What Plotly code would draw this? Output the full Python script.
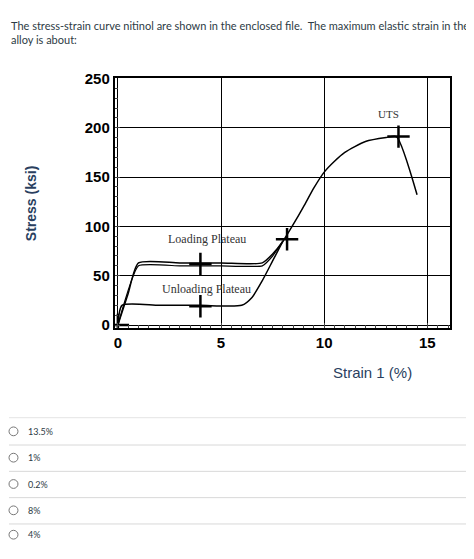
import plotly.graph_objects as go

# loading curve (upper line) up to UTS and fracture
load_x = [0, 0.5, 1, 3, 5, 7, 7.5, 8, 8.5, 9, 9.5, 10, 10.5, 11, 12, 13, 13.5, 14.5]
load_y = [0, 32, 63, 63, 63, 63, 72, 85, 102, 120, 139, 155, 166, 175, 186, 190, 191, 132]
# second loading trace (slightly lower plateau)
load2_x = [0, 1, 3, 5, 7, 7.5, 8]
load2_y = [0, 60, 60, 60, 60, 70, 85]
# unloading curve
unload_x = [8, 7.5, 7, 6.5, 6, 4, 2, 0.2, 0]
unload_y = [85, 65, 45, 28, 20, 20, 20, 20, 0]
# cross markers
mark_x = [0, 4, 8.2, 13.6, 4]
mark_y = [0, 62, 87, 191, 19]

options = ["13.5%", "1%", "0.2%", "8%", "4%"]

W, H = 474, 559
DX, DY = 8, 12  # page offset of the rendered figure


def px(x):
    return (x - DX) / W


def py(y):
    return 1 - (y - DY) / H


fig = go.Figure()
fig.add_trace(go.Scatter(x=load_x, y=load_y, mode="lines", line=dict(color="black", width=1.5, shape="spline", smoothing=0.6)))
fig.add_trace(go.Scatter(x=load2_x, y=load2_y, mode="lines", line=dict(color="black", width=1.2, shape="spline", smoothing=0.4)))
fig.add_trace(go.Scatter(x=unload_x, y=unload_y, mode="lines", line=dict(color="black", width=1.5, shape="spline", smoothing=0.6)))
fig.add_trace(go.Scatter(x=mark_x, y=mark_y, mode="markers",
                         marker=dict(symbol="cross-thin", size=16, line=dict(color="black", width=2.5))))

lbl = dict(family="Liberation Serif", size=12, color="#333")
fig.add_annotation(x=4.3, y=87, text="Loading Plateau", showarrow=False, font=lbl)
fig.add_annotation(x=4.3, y=37, text="Unloading Plateau", showarrow=False, font=lbl)
fig.add_annotation(x=13.1, y=214, text="UTS", showarrow=False, font=dict(family="Liberation Serif", size=11, color="#333"))

ax_font = dict(family="Liberation Sans", size=15, color="black", weight="bold")
fig.update_xaxes(range=[-0.15, 16.1], domain=[px(114), px(450)], tickvals=[0, 5, 10, 15],
                 showgrid=True, gridcolor="black", gridwidth=1.2, zeroline=False,
                 showline=True, linecolor="black", linewidth=2, mirror=True,
                 ticks="inside", ticklen=5, minor=dict(ticks="inside", ticklen=3, dtick=0.5, showgrid=False),
                 tickfont=ax_font)
fig.update_yaxes(range=[-3, 250], domain=[py(331), py(75)], tickvals=[0, 50, 100, 150, 200, 250],
                 showgrid=True, gridcolor="black", gridwidth=1.2, zeroline=False,
                 showline=True, linecolor="black", linewidth=2, mirror=True,
                 ticks="inside", ticklen=5, minor=dict(ticks="inside", ticklen=3, dtick=10, showgrid=False),
                 tickfont=ax_font)

# axis titles as in the scanned image
fig.add_annotation(xref="paper", yref="paper", x=px(30), y=py(203), text="Stress (ksi)", textangle=-90,
                   xanchor="center", yanchor="middle",
                   showarrow=False, font=dict(family="Liberation Sans", size=14, weight="bold"))
fig.add_annotation(xref="paper", yref="paper", x=px(372), y=py(377), text="Strain 1 (%)",
                   xanchor="center", yanchor="middle",
                   showarrow=False, font=dict(family="Liberation Sans", size=15))

# question text
fig.add_annotation(xref="paper", yref="paper", x=0, y=1, xanchor="left", yanchor="top", align="left",
                   text="The stress-strain curve nitinol are shown in the enclosed file.  The maximum elastic strain in the<br>alloy is about:",
                   showarrow=False, font=dict(family="Lato", size=11, color="#2d3b45"))

# answer options
opt_y = [437, 464, 491, 518, 543]
shapes = []
for i, (t, yy) in enumerate(zip(options, opt_y)):
    fig.add_annotation(xref="paper", yref="paper", x=px(25), y=py(yy), xanchor="left", yanchor="middle", text=t,
                       showarrow=False, font=dict(family="Lato", size=9, color="#2d3b45"))
    shapes.append(dict(type="circle", xref="paper", yref="paper", x0=px(8), x1=px(17),
                       y0=py(yy + 4.5), y1=py(yy - 4.5), line=dict(color="#777", width=1)))
    if i < len(options) - 1:
        sep = yy + 14
        shapes.append(dict(type="line", xref="paper", yref="paper", x0=0, x1=px(468),
                           y0=py(sep), y1=py(sep), line=dict(color="#d8d8d8", width=1)))
shapes.append(dict(type="line", xref="paper", yref="paper", x0=0, x1=px(468),
                   y0=py(423), y1=py(423), line=dict(color="#e4e4e4", width=1)))

fig.update_layout(width=W, height=H, margin=dict(l=0, r=0, t=0, b=0), showlegend=False,
                  plot_bgcolor="white", paper_bgcolor="white", shapes=shapes)
fig.write_html("out.html")
